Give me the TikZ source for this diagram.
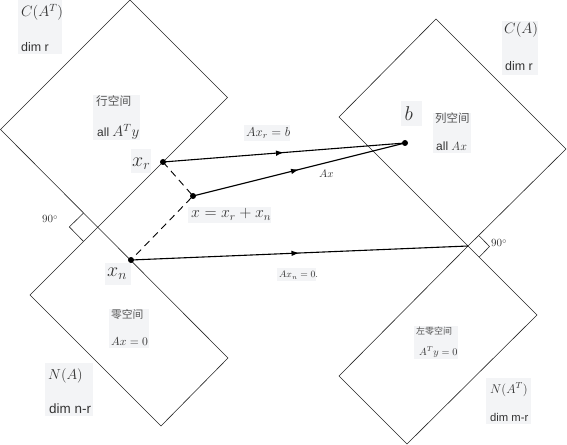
\RequirePackage{fix-cm}
\documentclass[tikz,border=0pt]{standalone}
\usepackage{fontspec}
\setsansfont{Liberation Sans}
\newfontfamily\cjk{Noto Sans CJK SC}
\usetikzlibrary{decorations.markings,arrows.meta}
\definecolor{boxgray}{HTML}{F3F4F6}
\definecolor{txtgray}{HTML}{333333}
\definecolor{cjkgray}{HTML}{555555}
\newcommand{\fs}[1]{\fontsize{#1}{#1}\selectfont}
\tikzset{
  region/.style={draw=black!85, line width=0.6bp, line join=miter},
  lbox/.style={fill=boxgray, draw=none},
  txt/.style={inner sep=0pt, anchor=base west, text=txtgray},
  cjktxt/.style={inner sep=0pt, anchor=base west, text=cjkgray},
  dot/.style={circle, fill=black, inner sep=0pt, minimum size=6bp},
  mapto/.style={line width=1.1bp, postaction={decorate},
    decoration={markings, mark=at position 0.5 with {\arrow{Latex[length=8bp,width=5.5bp]}}}},
  proj/.style={line width=0.9bp, dash pattern=on 7bp off 5bp},
  rightmark/.style={draw=black!85, line width=0.6bp},
}
\begin{document}
\begin{tikzpicture}[x=1bp,y=-1bp]
\useasboundingbox (0,0) rectangle (567,445);
% label backgrounds
\fill[lbox] (18,0) rectangle (62,54);
\fill[lbox] (93,95) rectangle (140,140);
\fill[lbox] (131,149) rectangle (151,173);
\fill[lbox] (105,263) rectangle (131,285);
\fill[lbox] (188,207) rectangle (271,223);
\fill[lbox] (401,101) rectangle (422,126);
\fill[lbox] (433,113) rectangle (471,153);
\fill[lbox] (502,21) rectangle (538,75);
\fill[lbox] (45,363) rectangle (93,416);
\fill[lbox] (109,309) rectangle (149,348);
\fill[lbox] (414,326) rectangle (458,359);
\fill[lbox] (486,378) rectangle (531,424);
\fill[lbox] (244,125) rectangle (290,141);
\fill[lbox] (277,268) rectangle (316,281);
% four subspaces
\draw[region] (0.5,129.5) -- (130,0) -- (227.5,97.5) -- (97.75,227.25) -- cycle;
\draw[region] (97.75,227.25) -- (228,358) -- (161,426) -- (30,295) -- cycle;
\draw[region] (339,117) -- (436,19) -- (566,149) -- (468,246) -- cycle;
\draw[region] (468,246) -- (537,315) -- (407,444) -- (339,376) -- cycle;
% right angle marks
\draw[rightmark] (83.3,213.3) -- (69.3,226.9) -- (83.3,241.2);
\draw[rightmark] (479.3,236) -- (489.5,246.5) -- (479.3,257);
\node[txt, font=\fs{11}] (ang1) at (42,223) {$90^\circ$};
\node[txt, font=\fs{11}] (ang2) at (491,247) {$90^\circ$};
% points
\node[dot] (xr) at (163,162) {};
\node[dot] (x) at (193,196) {};
\node[dot] (xn) at (131,260) {};
\node[dot] (b) at (405,143) {};
\coordinate (c2) at (468,246);
% maps
\draw[mapto] (xr.center) -- (b.center);
\draw[mapto] (x.center) -- (b.center);
\draw[mapto] (xn.center) -- (c2);
\draw[proj] (xr.center) -- (x.center) -- (xn.center);
% labels
\node[txt, font=\fs{15}] (lCAT) at (21,17) {$C(A^T)$};
\node[txt, font=\sffamily\fs{12.5}] (lCATd) at (21,51.5) {dim r};
\node[cjktxt, font=\cjk\fs{11.7}] (lrow) at (96,105.5) {行空间};
\node[txt, font=\sffamily\fs{12}] (lrowa) at (97,137) {all {\fs{15}$A^Ty$}};
\node[txt, font=\fs{20}] (lxr) at (132,167) {$x_r$};
\node[txt, font=\fs{20}] (lxn) at (107,277) {$x_n$};
\node[txt, font=\fs{16}] (lx) at (191,218) {$x=x_r+x_n$};
\node[txt, font=\fs{20}] (lb) at (404.5,121) {$b$};
\node[cjktxt, font=\cjk\fs{11.5}] (lcol) at (435,122.5) {列空间};
\node[txt, font=\sffamily\fs{12}] (lcola) at (436,150.5) {all {\fs{12}$Ax$}};
\node[txt, font=\fs{15}] (lCA) at (504,34) {$C(A)$};
\node[txt, font=\sffamily\fs{12.5}] (lCAd) at (505,71) {dim r};
\node[txt, font=\fs{14.5}] (lNA) at (48,379) {$N(A)$};
\node[txt, font=\sffamily\fs{13.5}] (lNAd) at (49,413) {dim n-r};
\node[cjktxt, font=\cjk\fs{10.8}] (lnull) at (111,318) {零空间};
\node[txt, font=\fs{11.7}] (lnulla) at (111,345) {$Ax=0$};
\node[cjktxt, font=\cjk\fs{9}] (llnull) at (416,334) {左零空间};
\node[txt, font=\fs{10.3}] (llnulla) at (419,355) {$A^Ty=0$};
\node[txt, font=\fs{12.7}] (lNAT) at (490,393) {$N(A^T)$};
\node[txt, font=\sffamily\fs{11.3}] (lNATd) at (490,421) {dim m-r};
\node[txt, font=\fs{13}] (lAxr) at (246,137) {$Ax_r=b$};
\node[txt, font=\fs{11}] (lAx) at (319,178) {$Ax$};
\node[txt, font=\fs{9.5}] (lAxn) at (279,278) {$Ax_n=0.$};
\end{tikzpicture}
\end{document}
